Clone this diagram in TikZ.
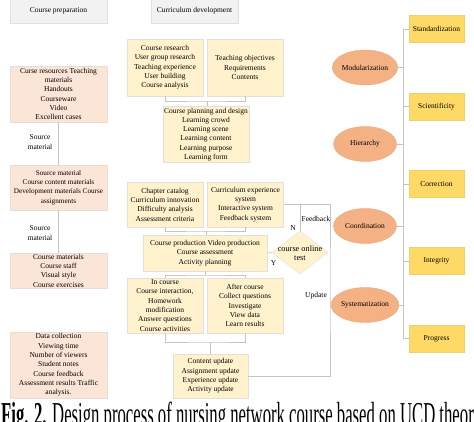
\documentclass[tikz,border=0pt]{standalone}
\usepackage{fontspec}
\setmainfont{Liberation Serif}
\usetikzlibrary{shapes.geometric}
\definecolor{peach}{HTML}{FBE5D6}
\definecolor{lyel}{HTML}{FFF2CC}
\definecolor{ellc}{HTML}{F4B183}
\definecolor{ellb}{HTML}{EBA77C}
\definecolor{gold}{HTML}{FFD966}
\definecolor{goldb}{HTML}{F2CF6A}
\definecolor{hdrc}{HTML}{F2F2F2}
\definecolor{lineg}{HTML}{C4C4C4}
\definecolor{boxb}{HTML}{E4E0D8}
\tikzset{
  txt/.style={font=\fontsize{7.5}{9.3}\selectfont, align=center, inner sep=0pt},
  hdr/.style={txt, draw=boxb, fill=hdrc, minimum width=97pt, minimum height=24pt},
  lbox/.style={txt, draw=boxb, fill=peach, minimum width=97pt},
  mbox/.style={txt, draw=boxb, fill=lyel},
  ell/.style={txt, ellipse, draw=ellb, fill=ellc, minimum width=63pt, minimum height=35pt},
  gbox/.style={txt, draw=goldb, fill=gold, minimum width=55pt, minimum height=27pt},
  dia/.style={diamond, draw=boxb, fill=lyel, inner sep=0pt, minimum width=56pt, minimum height=43pt},
  conn/.style={draw=lineg, line width=0.6pt},
  lbl/.style={font=\fontsize{7.5}{9.3}\selectfont, align=center, inner sep=0pt},
}
\begin{document}
\begin{tikzpicture}[x=1pt,y=-1pt]
\useasboundingbox (0,0) rectangle (474,421);
\clip (0,0) rectangle (474,421);
\fill[white] (0,0) rectangle (474,421);

% headers
\node[hdr] (H1) at (58.5,11) {Course preparation};
\node[hdr, minimum width=87pt] (H2) at (194.5,11) {Curriculum development};

% left column
\node[lbox, minimum height=56pt] (L1) at (58.5,94) {Curse resources Teaching\\materials\\Handouts\\Courseware\\Video\\Excellent cases};
\node[lbox, minimum height=45pt, font=\fontsize{7.2}{9.3}\selectfont] (L2) at (58.5,187.5) {Source material\\Course content materials\\Development materials Course\\assignments};
\node[lbox, minimum height=35pt] (L3) at (58.5,270.5) {Course materials\\Course staff\\Visual style\\Course exercises};
\node[lbox, minimum height=66pt] (L4) at (58.5,365) {Data collection\\Viewing time\\Number of viewers\\Student notes\\Course feedback\\Assessment results Traffic\\analysis.};
\draw[conn] (L1.south) -- (L2.north);
\draw[conn] (L2.south) -- (L3.north);
\node[lbl] (s1) at (40,142) {Source\\material};
\node[lbl] (s2) at (40,233) {Source\\material};

% middle column
\node[mbox, minimum width=76pt, minimum height=57pt] (M1a) at (165,67.5) {Course research\\User group research\\Teaching experience\\User building\\Course analysis};
\node[mbox, minimum width=76pt, minimum height=57pt] (M1b) at (245,67.5) {Teaching objectives\\Requirements\\Contents};
\node[mbox, minimum width=86pt, minimum height=56pt] (M2) at (206,134.5) {Course planning and design\\Learning crowd\\Learning scene\\Learning content\\Learning purpose\\Learning form};
\node[mbox, minimum width=76pt, minimum height=45pt] (M3a) at (165,204.5) {Chapter catalog\\Curriculum innovation\\Difficulty analysis\\Assessment criteria};
\node[mbox, minimum width=76pt, minimum height=45pt] (M3b) at (245.5,204.5) {Curriculum experience\\system\\Interactive system\\Feedback system};
\node[mbox, minimum width=124pt, minimum height=36pt] (M4) at (205,253) {Course production Video production\\Course assessment\\Activity planning};
\node[mbox, minimum width=76pt, minimum height=55pt] (M5a) at (165,305.5) {In course\\Course interaction,\\Homework\\modification\\Answer questions\\Course activities};
\node[mbox, minimum width=76pt, minimum height=55pt] (M5b) at (245,305.5) {After course\\Collect questions\\Investigate\\View data\\Learn results};
\node[mbox, minimum width=75pt, minimum height=44pt] (M6) at (210.5,376) {Content update\\Assignment update\\Experience update\\Activity update};

\coordinate (b1) at (207,101);
\draw[conn] (M1a.south) |- (b1) -| (M1b.south);
\draw[conn] (b1) -- (b1 |- M2.north);
\coordinate (b2) at (206,231);
\draw[conn] (M3a.south) |- (b2) -| (M3b.south);
\draw[conn] (b2) -- (b2 |- M4.north);
\coordinate (b3) at (205,275);
\draw[conn] (M5a.north) |- (b3) -| (M5b.north);
\draw[conn] (M4.south) -- (b3);
\coordinate (b4) at (210,342);
\draw[conn] (M5a.south) |- (b4) -| (M5b.south);
\draw[conn] (b4) -- (b4 |- M6.north);

% diamond and loop
\node[dia] (D) at (300,252.5) {};
\node[lbl, font=\fontsize{8.3}{9.5}\selectfont] (Dt) at (300,253) {course online\\test};
\coordinate (rc) at (330,290);
\draw[conn] (M3b.east) -| (rc) |- (M6.east);
\draw[conn] (D.north) -- (D.north |- M3b.east);
\draw[conn] (D.west) -- (M4.east);
\node[lbl] (N) at (293,228) {N};
\node[lbl] (Y) at (273.5,263) {Y};
\node[lbl] (fb) at (316,219) {Feedback};
\node[lbl] (up) at (316,296) {Update};

% right part
\node[ell] (E1) at (365,67.5) {Modularization};
\node[ell] (E2) at (365,144) {Hierarchy};
\node[ell] (E3) at (365,226) {Coordination};
\node[ell] (E4) at (365,305) {Systematization};
\node[gbox] (R1) at (436.5,29) {Standardization};
\node[gbox] (R2) at (436.5,106.5) {Scientificity};
\node[gbox] (R3) at (436.5,184) {Correction};
\node[gbox] (R4) at (436.5,261) {Integrity};
\node[gbox] (R5) at (436.5,338.5) {Progress};
\coordinate (tr) at (403,29);
\draw[conn] (R1.west) -- (tr |- R1.west) -- (tr |- R5.west) -- (R5.west);
\foreach \r in {R2,R3,R4} \draw[conn] (tr |- \r.west) -- (\r.west);
\foreach \e in {E1,E2,E3,E4} \draw[conn] (\e.east) -- (tr |- \e.east);

% caption
\node[anchor=base west, inner sep=0pt] (cap) at (1,425) {\scalebox{1}[2.0]{\fontsize{16.7}{16.7}\selectfont\textbf{Fig. 2.} Design process of nursing network course based on UCD theory}};
\end{tikzpicture}
\end{document}
